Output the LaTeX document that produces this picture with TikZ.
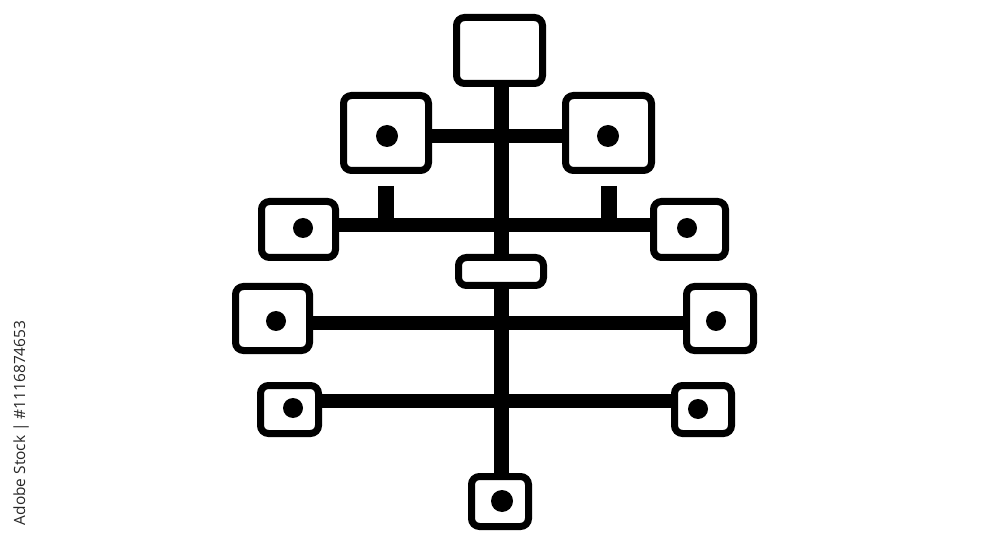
\documentclass[tikz,border=0pt]{standalone}
\usepackage{fontspec}
\newfontfamily\wmfont{Open Sans}
\usetikzlibrary{backgrounds}
\newcommand{\pxu}{0.02cm}
\tikzset{
  box/.style={draw=black, fill=white, line width=7*\pxu, rounded corners=8*\pxu, inner sep=0pt, rectangle},
  bar/.style={draw=black, line width=14*\pxu},
  stub/.style={draw=black, line width=16*\pxu},
  stem/.style={draw=black, line width=15*\pxu},
}
\begin{document}
\begin{tikzpicture}[x=0.02cm,y=-0.02cm]
\useasboundingbox (0,0) rectangle (1000,560);
% boxes
\node[box, minimum width=86*\pxu, minimum height=66*\pxu] (top) at (499.5,50.5) {};
\node[box, minimum width=85*\pxu, minimum height=75*\pxu] (u1) at (386,133) {};
\node[box, minimum width=86*\pxu, minimum height=75*\pxu] (u2) at (608.5,133) {};
\node[box, minimum width=74*\pxu, minimum height=56*\pxu] (l2) at (298.5,229.5) {};
\node[box, minimum width=72*\pxu, minimum height=56*\pxu] (r2) at (689.5,229.5) {};
\node[box, minimum width=85*\pxu, minimum height=28*\pxu] (pill) at (501,271.5) {};
\node[box, minimum width=74*\pxu, minimum height=64*\pxu] (l3) at (272.5,318.5) {};
\node[box, minimum width=67*\pxu, minimum height=64*\pxu] (r3) at (720,318.5) {};
\node[box, minimum width=58*\pxu, minimum height=48*\pxu] (l4) at (289.5,409.5) {};
\node[box, minimum width=57*\pxu, minimum height=48*\pxu] (r4) at (703,409.5) {};
\node[box, minimum width=57*\pxu, minimum height=50*\pxu] (bot) at (500,501.5) {};
% dots
\fill (387,136) circle (11);
\fill (608,136) circle (11);
\fill (303,228) circle (10);
\fill (687,228) circle (10);
\fill (276,321) circle (10);
\fill (716,321) circle (10);
\fill (293,408) circle (10);
\fill (698,409) circle (10);
\fill (502,501) circle (11);
% connectors
\begin{scope}[on background layer]
  \fill[white] (0,0) rectangle (1000,560);
  \draw[stem] (top.south -| pill) -- (bot.north -| pill);
  \draw[bar] (u1.east |- 0,136) -- (u2.west |- 0,136);
  \draw[bar] (l2.east |- 0,225) -- (r2.west |- 0,225);
  \draw[bar] (l3.east |- 0,323) -- (r3.west |- 0,323);
  \draw[bar] (l4.east |- 0,401) -- (r4.west |- 0,401);
  \draw[stub] (u1.south |- 0,186) -- (u1.south |- 0,225);
  \draw[stub] (u2.south |- 0,186) -- (u2.south |- 0,225);
\end{scope}
% vertical credit text
\node[rotate=90, text=black!85, font=\wmfont\fontsize{8.8pt}{10pt}\selectfont, inner sep=0pt] (credit) at (21,423) {Adobe Stock | \#1116874653};
\end{tikzpicture}
\end{document}
